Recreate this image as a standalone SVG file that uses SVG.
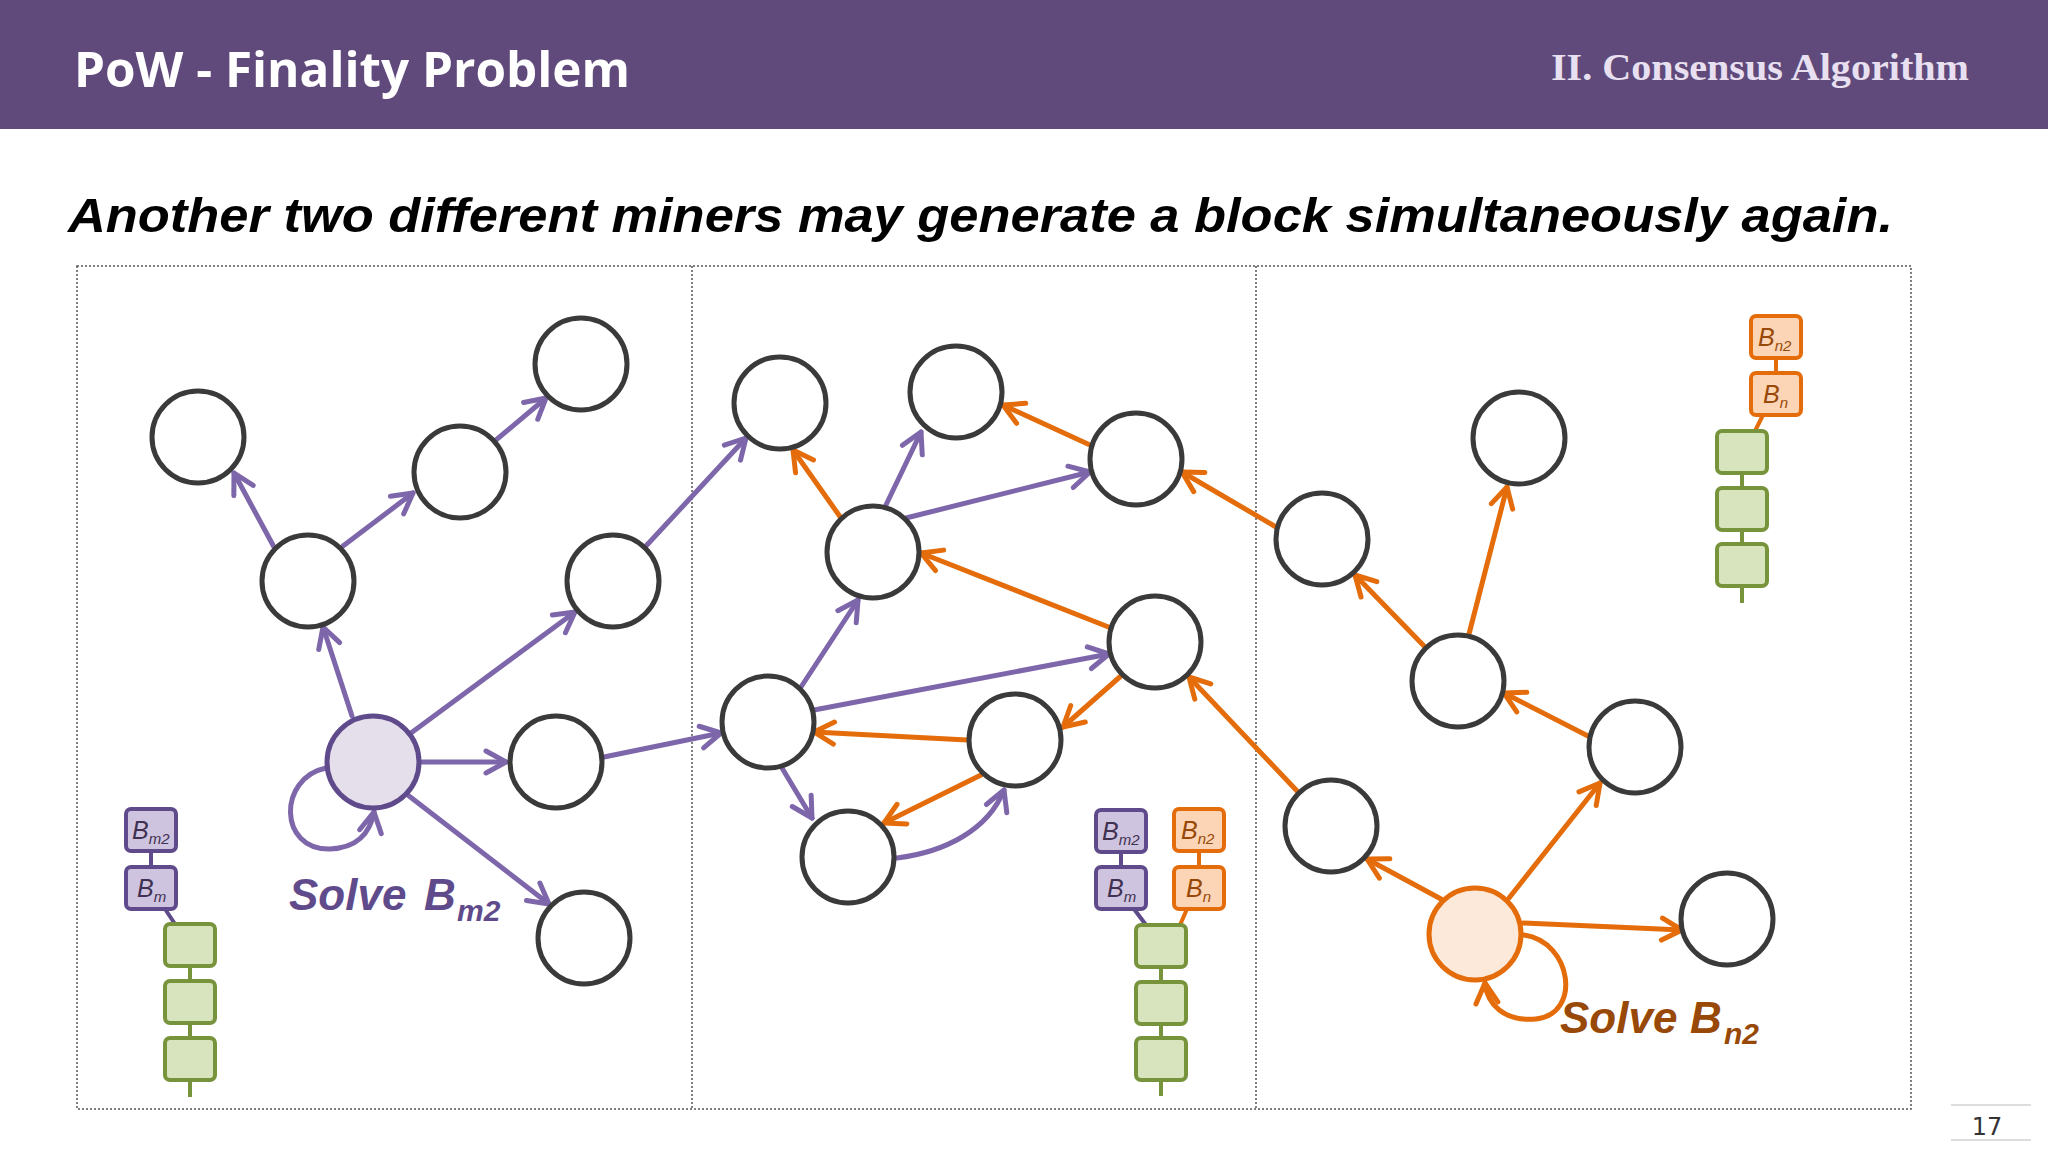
<svg xmlns="http://www.w3.org/2000/svg" width="2048" height="1152" viewBox="0 0 2048 1152">
<defs>
<style>
.node{fill:#ffffff;stroke:#3a3a3a;stroke-width:5}
.pl{fill:none;stroke:#7d66aa;stroke-width:5;stroke-linecap:round}
.or{fill:none;stroke:#e46c0a;stroke-width:5;stroke-linecap:round}
.gb{fill:#d7e4bd;stroke:#77933c;stroke-width:4}
.pb{fill:#cfc4e0;stroke:#5f4b8b;stroke-width:4}
.ob{fill:#fbd5b5;stroke:#e46c0a;stroke-width:4}
.gl{stroke:#77933c;stroke-width:4;fill:none}
.plk{stroke:#5f4b8b;stroke-width:4;fill:none}
.olk{stroke:#e46c0a;stroke-width:4;fill:none}
.bt{font-family:"Liberation Sans",Arial,sans-serif;font-style:italic;font-size:25px}
.bp{fill:#3f3151}
.bo{fill:#984807}
.frame{fill:none;stroke:#555;stroke-width:1.5;stroke-dasharray:2 2}
</style>
<marker id="ap" markerUnits="userSpaceOnUse" markerWidth="40" markerHeight="40" viewBox="-30 -20 40 40" refX="0" refY="0" orient="auto">
<path d="M -20 -11 L 0 0 L -20 11" fill="none" stroke="#7d66aa" stroke-width="5" stroke-linecap="round" stroke-linejoin="round"/>
</marker>
<marker id="ao" markerUnits="userSpaceOnUse" markerWidth="40" markerHeight="40" viewBox="-30 -20 40 40" refX="0" refY="0" orient="auto">
<path d="M -20 -11 L 0 0 L -20 11" fill="none" stroke="#e46c0a" stroke-width="5" stroke-linecap="round" stroke-linejoin="round"/>
</marker>
</defs>
<rect width="2048" height="1152" fill="#ffffff"/>
<g id="header">
<rect x="0" y="0" width="2048" height="129" fill="#604a7b"/>
<text x="74" y="87" font-family="'Open Sans','DejaVu Sans',sans-serif" font-weight="bold" font-size="48" fill="#ffffff" textLength="556" lengthAdjust="spacingAndGlyphs">PoW - Finality Problem</text>
<text x="1551" y="80" font-family="'Liberation Serif','Times New Roman',serif" font-weight="bold" font-size="38" fill="#e8e0f0" textLength="418" lengthAdjust="spacingAndGlyphs">II. Consensus Algorithm</text>
</g>
<text id="subtitle" x="68" y="232" font-family="'Liberation Sans',Arial,sans-serif" font-weight="bold" font-style="italic" font-size="49" fill="#000000" textLength="1825" lengthAdjust="spacingAndGlyphs">Another two different miners may generate a block simultaneously again.</text>
<g id="frame">
<rect class="frame" x="77" y="266" width="1834" height="843"/>
<line class="frame" x1="692" y1="266" x2="692" y2="1109"/>
<line class="frame" x1="1256" y1="266" x2="1256" y2="1109"/>
</g>
<g id="connectors">
<!-- panel 1 -->
<path class="pl" d="M 274 547 L 234 473" marker-end="url(#ap)"/>
<path class="pl" d="M 343 546 L 413 493" marker-end="url(#ap)"/>
<path class="pl" d="M 496 440 L 546 398" marker-end="url(#ap)"/>
<path class="pl" d="M 352 716 L 323 627" marker-end="url(#ap)"/>
<path class="pl" d="M 411 733 L 575 612" marker-end="url(#ap)"/>
<path class="pl" d="M 646 546 L 746 438" marker-end="url(#ap)"/>
<path class="pl" d="M 422 762 L 506 762" marker-end="url(#ap)"/>
<path class="pl" d="M 409 796 L 549 904" marker-end="url(#ap)"/>
<path class="pl" d="M 604 757 L 721 733" marker-end="url(#ap)"/>
<path class="pl" d="M 326 768 C 278 778, 278 850, 330 849 C 356 848, 370 834, 374 812" marker-end="url(#ap)"/>
<!-- panel 2 purple -->
<path class="pl" d="M 885 507 L 921 432" marker-end="url(#ap)"/>
<path class="pl" d="M 906 518 L 1090 472" marker-end="url(#ap)"/>
<path class="pl" d="M 801 687 L 858 600" marker-end="url(#ap)"/>
<path class="pl" d="M 814 710 L 1109 654" marker-end="url(#ap)"/>
<path class="pl" d="M 782 768 L 812 818" marker-end="url(#ap)"/>
<path class="pl" d="M 897 858 C 945 852, 988 830, 1004 790" marker-end="url(#ap)"/>
<!-- panel 2 orange -->
<path class="or" d="M 841 518 L 793 450" marker-end="url(#ao)"/>
<path class="or" d="M 1090 445 L 1003 405" marker-end="url(#ao)"/>
<path class="or" d="M 1276 527 L 1182 472" marker-end="url(#ao)"/>
<path class="or" d="M 1111 628 L 921 553" marker-end="url(#ao)"/>
<path class="or" d="M 1122 675 L 1063 727" marker-end="url(#ao)"/>
<path class="or" d="M 967 740 L 814 732" marker-end="url(#ao)"/>
<path class="or" d="M 981 775 L 884 823" marker-end="url(#ao)"/>
<path class="or" d="M 1298 792 L 1189 677" marker-end="url(#ao)"/>
<!-- panel 3 -->
<path class="or" d="M 1425 647 L 1355 575" marker-end="url(#ao)"/>
<path class="or" d="M 1469 634 L 1507 487" marker-end="url(#ao)"/>
<path class="or" d="M 1588 736 L 1504 693" marker-end="url(#ao)"/>
<path class="or" d="M 1441 899 L 1367 859" marker-end="url(#ao)"/>
<path class="or" d="M 1509 898 L 1600 783" marker-end="url(#ao)"/>
<path class="or" d="M 1523 923 L 1682 930" marker-end="url(#ao)"/>
<path class="or" d="M 1524 935 C 1572 942, 1582 1014, 1536 1019 C 1504 1022, 1487 1004, 1485 983" marker-end="url(#ao)"/>
</g>
<!-- panel 1 nodes -->
<g id="p1-a"><circle class="node" cx="198" cy="437" r="46"/></g>
<g id="p1-b"><circle class="node" cx="581" cy="364" r="46"/></g>
<g id="p1-c"><circle class="node" cx="460" cy="472" r="46"/></g>
<g id="p1-d"><circle class="node" cx="308" cy="581" r="46"/></g>
<g id="p1-e"><circle class="node" cx="613" cy="581" r="46"/></g>
<g id="p1-miner-m"><circle cx="373" cy="762" r="46" fill="#e5dfec" stroke="#5f4b8b" stroke-width="5"/></g>
<g id="p1-f"><circle class="node" cx="556" cy="762" r="46"/></g>
<g id="p1-g"><circle class="node" cx="584" cy="938" r="46"/></g>
<g id="p1-label"><text font-family="'Liberation Sans',Arial,sans-serif" font-weight="bold" font-style="italic" fill="#5f4b8b"><tspan x="289" y="910" font-size="44">Solve</tspan><tspan x="424" y="910" font-size="44">B</tspan><tspan x="457" y="921" font-size="30">m2</tspan></text></g>
<!-- panel 2 nodes -->
<g id="p2-p"><circle class="node" cx="780" cy="403" r="46"/></g>
<g id="p2-q"><circle class="node" cx="956" cy="392" r="46"/></g>
<g id="p2-r"><circle class="node" cx="1136" cy="459" r="46"/></g>
<g id="p2-s"><circle class="node" cx="873" cy="552" r="46"/></g>
<g id="p2-t"><circle class="node" cx="1155" cy="642" r="46"/></g>
<g id="p2-u"><circle class="node" cx="768" cy="722" r="46"/></g>
<g id="p2-v"><circle class="node" cx="1015" cy="740" r="46"/></g>
<g id="p2-w"><circle class="node" cx="848" cy="857" r="46"/></g>
<!-- panel 3 nodes -->
<g id="p3-x"><circle class="node" cx="1322" cy="539" r="46"/></g>
<g id="p3-y2"><circle class="node" cx="1519" cy="438" r="46"/></g>
<g id="p3-z"><circle class="node" cx="1458" cy="681" r="46"/></g>
<g id="p3-y"><circle class="node" cx="1331" cy="826" r="46"/></g>
<g id="p3-k"><circle class="node" cx="1635" cy="747" r="46"/></g>
<g id="p3-miner-n"><circle cx="1475" cy="934" r="46" fill="#fde9d9" stroke="#e46c0a" stroke-width="5"/></g>
<g id="p3-l"><circle class="node" cx="1727" cy="919" r="46"/></g>
<g id="p3-label"><text font-family="'Liberation Sans',Arial,sans-serif" font-weight="bold" font-style="italic" fill="#984807"><tspan x="1560" y="1033" font-size="44">Solve</tspan><tspan x="1690" y="1033" font-size="44">B</tspan><tspan x="1724" y="1044" font-size="30">n2</tspan></text></g>
<!-- chain 1 -->
<g id="chain1">
<line class="plk" x1="151" y1="851" x2="151" y2="867"/>
<line class="plk" x1="165" y1="909" x2="175" y2="924"/>
<line class="gl" x1="190" y1="966" x2="190" y2="981"/>
<line class="gl" x1="190" y1="1023" x2="190" y2="1038"/>
<line class="gl" x1="190" y1="1080" x2="190" y2="1097"/>
<rect class="pb" x="126" y="809" width="50" height="42" rx="5"/>
<rect class="pb" x="126" y="867" width="50" height="42" rx="5"/>
<rect class="gb" x="165" y="924" width="50" height="42" rx="5"/>
<rect class="gb" x="165" y="981" width="50" height="42" rx="5"/>
<rect class="gb" x="165" y="1038" width="50" height="42" rx="5"/>
<text class="bt bp" x="132" y="839">B<tspan font-size="15" dy="5">m2</tspan></text>
<text class="bt bp" x="137" y="897">B<tspan font-size="15" dy="5">m</tspan></text>
</g>
<!-- chain 2 -->
<g id="chain2">
<line class="plk" x1="1121" y1="852" x2="1121" y2="867"/>
<line class="olk" x1="1199" y1="851" x2="1199" y2="867"/>
<line class="plk" x1="1134" y1="909" x2="1146" y2="925"/>
<line class="olk" x1="1187" y1="909" x2="1180" y2="925"/>
<line class="gl" x1="1161" y1="967" x2="1161" y2="982"/>
<line class="gl" x1="1161" y1="1024" x2="1161" y2="1038"/>
<line class="gl" x1="1161" y1="1080" x2="1161" y2="1096"/>
<rect class="pb" x="1096" y="810" width="50" height="42" rx="5"/>
<rect class="pb" x="1096" y="867" width="50" height="42" rx="5"/>
<rect class="ob" x="1174" y="809" width="50" height="42" rx="5"/>
<rect class="ob" x="1174" y="867" width="50" height="42" rx="5"/>
<rect class="gb" x="1136" y="925" width="50" height="42" rx="5"/>
<rect class="gb" x="1136" y="982" width="50" height="42" rx="5"/>
<rect class="gb" x="1136" y="1038" width="50" height="42" rx="5"/>
<text class="bt bp" x="1102" y="840">B<tspan font-size="15" dy="5">m2</tspan></text>
<text class="bt bp" x="1107" y="897">B<tspan font-size="15" dy="5">m</tspan></text>
<text class="bt bo" x="1181" y="839">B<tspan font-size="15" dy="5">n2</tspan></text>
<text class="bt bo" x="1186" y="897">B<tspan font-size="15" dy="5">n</tspan></text>
</g>
<!-- chain 3 -->
<g id="chain3">
<line class="olk" x1="1776" y1="358" x2="1776" y2="373"/>
<line class="olk" x1="1763" y1="415" x2="1755" y2="431"/>
<line class="gl" x1="1742" y1="473" x2="1742" y2="488"/>
<line class="gl" x1="1742" y1="530" x2="1742" y2="544"/>
<line class="gl" x1="1742" y1="586" x2="1742" y2="603"/>
<rect class="ob" x="1751" y="316" width="50" height="42" rx="5"/>
<rect class="ob" x="1751" y="373" width="50" height="42" rx="5"/>
<rect class="gb" x="1717" y="431" width="50" height="42" rx="5"/>
<rect class="gb" x="1717" y="488" width="50" height="42" rx="5"/>
<rect class="gb" x="1717" y="544" width="50" height="42" rx="5"/>
<text class="bt bo" x="1758" y="346">B<tspan font-size="15" dy="5">n2</tspan></text>
<text class="bt bo" x="1763" y="403">B<tspan font-size="15" dy="5">n</tspan></text>
</g>
<g id="page-number">
<line x1="1951" y1="1105" x2="2031" y2="1105" stroke="#dddddd" stroke-width="2"/>
<line x1="1951" y1="1140" x2="2031" y2="1140" stroke="#dddddd" stroke-width="2"/>
<text x="1987" y="1135" text-anchor="middle" font-family="'DejaVu Sans',sans-serif" font-size="24" fill="#333333">17</text>
</g>
</svg>
